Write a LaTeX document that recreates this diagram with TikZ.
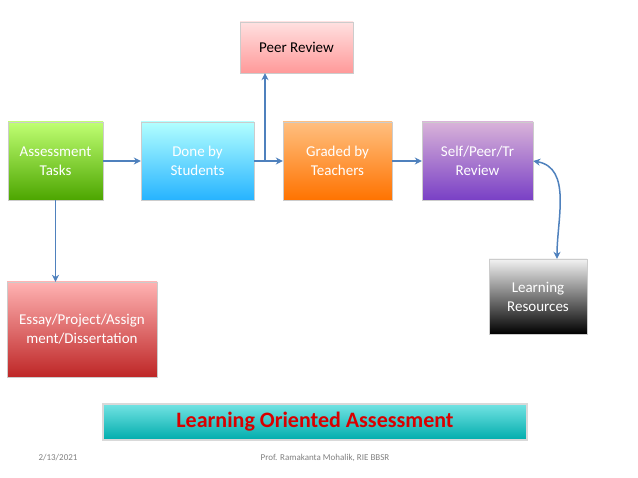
\documentclass[tikz,border=0pt]{standalone}
\usepackage{fontspec}
\setmainfont{Carlito}
\usetikzlibrary{arrows.meta}
\definecolor{arrc}{HTML}{4F81BD}
\begin{document}
\begin{tikzpicture}[x=1pt,y=-1pt,
 box/.style={draw=gray!40,minimum width=#1,align=center,font=\fontsize{15}{19}\selectfont,text=white,inner sep=2pt},
 arr/.style={draw=arrc,line width=1.5pt,-{Stealth[length=7pt,width=7pt]}}]
\useasboundingbox (0,0) rectangle (638,478);
\node[box=95pt,minimum height=78pt,top color=green!45!yellow!55,bottom color=green!50!black!70!yellow] (at) at (55.5,161) {Assessment\\Tasks};
\node[box=113pt,minimum height=78pt,top color=cyan!30,bottom color=cyan!65!blue!85] (ds) at (197.5,161) {Done by\\Students};
\node[box=113pt,minimum height=51pt,top color=red!12,bottom color=red!40,text=black] (pr) at (296.5,47.5) {Peer Review};
\node[box=109pt,minimum height=78pt,top color=orange!50,bottom color=orange!90!red] (gt) at (337.5,161) {Graded by\\Teachers};
\node[box=111pt,minimum height=78pt,top color=violet!30,bottom color=violet!60!blue!75] (sp) at (477.5,161) {Self/Peer/Tr\\Review};
\node[box=98pt,minimum height=75pt,top color=gray!10,bottom color=black] (lr) at (538,296.5) {Learning\\Resources};
\node[box=150pt,minimum height=95pt,top color=red!30,bottom color=red!70!black!85] (es) at (82,329.5) {Essay/Project/Assign\\ment/Dissertation};
\node[draw=gray!30,line width=2pt,minimum width=424pt,minimum height=36pt,top color=teal!40!cyan!55,bottom color=teal!65!cyan,font=\fontsize{22}{26}\bfseries,text=red!85!black] (ti) at (315,422) {Learning Oriented Assessment};
\node[font=\fontsize{9}{11}\selectfont,text=gray] (d) at (58,458) {2/13/2021};
\node[font=\fontsize{9}{11}\selectfont,text=gray] (p) at (325,458) {Prof. Ramakanta Mohalik, RIE BBSR};
\draw[arr] (at) -- (ds);
\draw[arr] (ds) -- (gt);
\coordinate (j) at (265,161);
\draw[arr] (j) -- (pr.south -| j);
\draw[arr] (gt) -- (sp);
\draw[arr] (at.south) -- (at.south |- es.north);
\draw[arr,{Stealth[length=7pt,width=7pt]}-{Stealth[length=7pt,width=7pt]}] (sp.east) to[out=-10,in=90] (lr.north -| 557,0);
\end{tikzpicture}
\end{document}
